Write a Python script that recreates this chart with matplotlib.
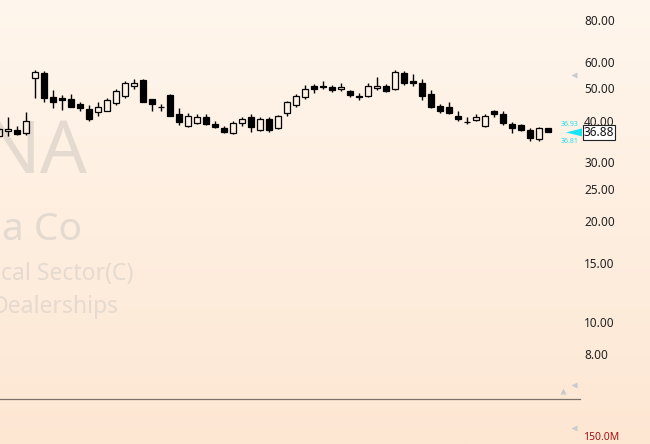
import matplotlib
matplotlib.use("Agg")
import matplotlib.pyplot as plt
import numpy as np
from matplotlib.lines import Line2D
from matplotlib.patches import Polygon
from matplotlib.ticker import NullLocator
import matplotlib.transforms as mtransforms

# ---------------- data ----------------
opens = [36.0, 37.3, 37.45, 36.75, 53.55, 55.4, 47.0, 46.7, 46.4, 44.8,
         43.3, 42.3, 42.77, 45.2, 47.5, 50.9, 52.9, 46.4, 44.0, 47.7,
         41.8, 38.57, 39.45, 41.1, 39.1, 38.1, 36.7, 39.45, 41.1, 37.5,
         40.47, 37.95, 42.1, 44.5, 47.2, 50.8, 50.8, 50.3, 49.6, 49.2,
         47.5, 47.3, 49.95, 50.9, 49.75, 55.65, 52.4, 51.7, 48.07, 44.26,
         43.85, 41.3, 39.7, 40.2, 38.57, 42.77, 41.9, 39.1, 38.75, 37.5,
         35.2, 37.95]
highs = [38.0, 41.0, 38.6, 42.5, 56.7, 56.2, 49.4, 47.7, 48.2, 45.6,
         44.6, 45.6, 46.65, 49.75, 52.55, 53.2, 53.2, 46.4, 44.8, 48.0,
         43.6, 42.1, 41.8, 41.9, 39.9, 38.57, 39.9, 41.1, 41.8, 40.95,
         40.95, 41.6, 45.9, 48.07, 51.1, 51.5, 52.6, 51.1, 51.7, 49.4,
         48.3, 51.7, 54.0, 51.4, 56.7, 56.3, 55.1, 53.2, 49.4, 44.8,
         45.4, 42.77, 41.0, 41.8, 41.8, 43.06, 42.6, 39.75, 39.0, 38.1,
         38.4, 37.95]
lows = [35.8, 35.9, 36.3, 36.3, 46.9, 45.5, 43.7, 43.06, 44.0, 42.85,
        40.0, 41.3, 42.6, 44.4, 46.7, 49.75, 45.4, 42.85, 42.85, 41.4,
        38.7, 38.3, 39.1, 38.84, 38.05, 36.7, 36.5, 38.57, 37.1, 37.35,
        37.1, 37.8, 41.4, 43.9, 46.4, 48.3, 49.6, 48.8, 49.07, 47.1,
        46.2, 47.2, 49.4, 48.6, 49.5, 51.1, 50.8, 46.2, 43.75, 42.1,
        41.9, 39.9, 39.0, 39.9, 38.4, 41.1, 38.7, 36.8, 37.27, 34.8,
        34.8, 36.88]
closes = [37.7, 37.8, 36.6, 39.9, 56.0, 46.7, 45.6, 46.1, 44.0, 43.75,
          40.4, 44.0, 46.1, 49.07, 51.7, 51.95, 45.4, 44.8, 43.8, 41.4,
          39.55, 41.3, 41.1, 39.1, 38.25, 37.1, 39.45, 40.47, 38.4, 40.47,
          37.5, 41.3, 45.4, 47.4, 49.6, 49.75, 50.4, 49.3, 50.4, 47.6,
          47.0, 50.8, 50.8, 49.2, 56.0, 52.0, 51.9, 47.5, 43.9, 42.85,
          42.1, 40.4, 39.55, 40.95, 41.3, 41.9, 39.3, 38.1, 37.5, 35.6,
          37.95, 36.88]

price_ticks = [8, 10, 15, 20, 25, 30, 40, 50, 60, 80]
price_labels = ["8.00", "10.00", "15.00", "20.00", "25.00", "30.00",
                "40.00", "50.00", "60.00", "80.00"]
last_price = 36.88
last_label = "36.88"
quote_high = "36.93"
quote_low = "36.81"
volume_label = "150.0M"
wm_lines = ["NA", "a Co", "cal Sector(C)", "Dealerships"]

# ---------------- figure ----------------
plt.rcParams["font.family"] = ["Noto Sans", "DejaVu Sans"]
W, H = 650, 444
fig = plt.figure(figsize=(W / 100, H / 100), dpi=100)

# background gradient
bg = fig.add_axes([0, 0, 1, 1], zorder=0)
top = np.array([255, 246, 237]) / 255.0
bot = np.array([253, 231, 211]) / 255.0
t = np.linspace(0, 1, 256)[:, None]
grad = top[None, :] * (1 - t) + bot[None, :] * t
bg.imshow(grad[:, None, :], aspect="auto", extent=[0, 1, 0, 1])
bg.axis("off")

# watermark text (figure pixel coords, right-aligned, baseline)
wm_color = "#E5DACF"
wm_specs = [(88, 173, 53), (82, 240, 28), (133, 280, 16.5), (119, 313, 16.5)]
for txt, (xr, yb, fs) in zip(wm_lines, wm_specs):
    fig.text(xr / W, 1 - yb / H, txt, ha="right", va="baseline",
             fontsize=fs, color=wm_color, zorder=1)

# main price axes
ax = fig.add_axes([0, 45 / H, 580 / W, 399 / H], zorder=2)
ax.patch.set_alpha(0)
ax.set_yscale("log")
ax.set_ylim(5.88, 91.8)
n = len(opens)
ax.set_xlim(1 / 9, 1 / 9 + 580 / 9)

x = np.arange(n)
o = np.array(opens); h = np.array(highs); l = np.array(lows); c = np.array(closes)
body_top = np.maximum(o, c)
body_bot = np.minimum(o, c)
up = c >= o
# wicks
ax.vlines(x, body_top, h, color="black", lw=1.0, zorder=3)
ax.vlines(x, l, body_bot, color="black", lw=1.0, zorder=3)
heights = np.maximum(body_top - body_bot, 0.05)
ax.bar(x[up], heights[up], bottom=body_bot[up], width=0.7,
       facecolor="none", edgecolor="black", lw=0.9, zorder=4)
ax.bar(x[~up], heights[~up], bottom=body_bot[~up], width=0.7,
       facecolor="black", edgecolor="black", lw=0.9, zorder=4)

# axes styling
ax.yaxis.tick_right()
ax.set_yticks(price_ticks)
ax.set_yticklabels(price_labels)
ax.yaxis.set_minor_locator(NullLocator())
ax.tick_params(axis="y", length=0, pad=3, labelsize=8.5, labelcolor="#222222")
ax.set_xticks([])
for s in ["top", "left", "right"]:
    ax.spines[s].set_visible(False)
ax.spines["bottom"].set_color("#7d726a")
ax.spines["bottom"].set_linewidth(0.9)

blend = mtransforms.blended_transform_factory(ax.transAxes, ax.transData)
# current price box
ax.text(1 + 4 / 580, last_price, last_label, transform=blend, ha="left",
        va="center", fontsize=8.5, color="#111111", zorder=6, clip_on=False,
        bbox=dict(boxstyle="square,pad=0.06", fc="white", ec="#222222", lw=0.8))
# cyan arrow
fig.canvas.draw()
py = ax.transData.transform((0, last_price))[1]
pts_px = [(566, py), (582, py + 4), (582, py - 4)]
pts = [(px / W, pyy / H) for px, pyy in pts_px]
fig.add_artist(Polygon(pts, closed=True, transform=fig.transFigure,
                       fc="#18E4F4", ec="none", zorder=7))
fig.text(570 / W, (py + 8) / H, quote_high, ha="center", va="center",
         fontsize=5, color="#22E0F0", zorder=7)
fig.text(570 / W, (py - 9) / H, quote_low, ha="center", va="center",
         fontsize=5, color="#22E0F0", zorder=7)

# grey markers
for (mx, my, mk) in [(574, 75, "<"), (574, 385, "<"), (574, 428, "<"), (563, 391, "^")]:
    fig.add_artist(Line2D([mx / W], [1 - my / H], marker=mk, ms=5,
                          color="#C9CACF", mec="none", transform=fig.transFigure,
                          zorder=7))

# volume scale label
fig.text(583 / W, 1 - 437 / H, volume_label, ha="left", va="center",
         fontsize=7.5, color="#A31515", zorder=7)

fig.savefig("out.png", dpi=100)
